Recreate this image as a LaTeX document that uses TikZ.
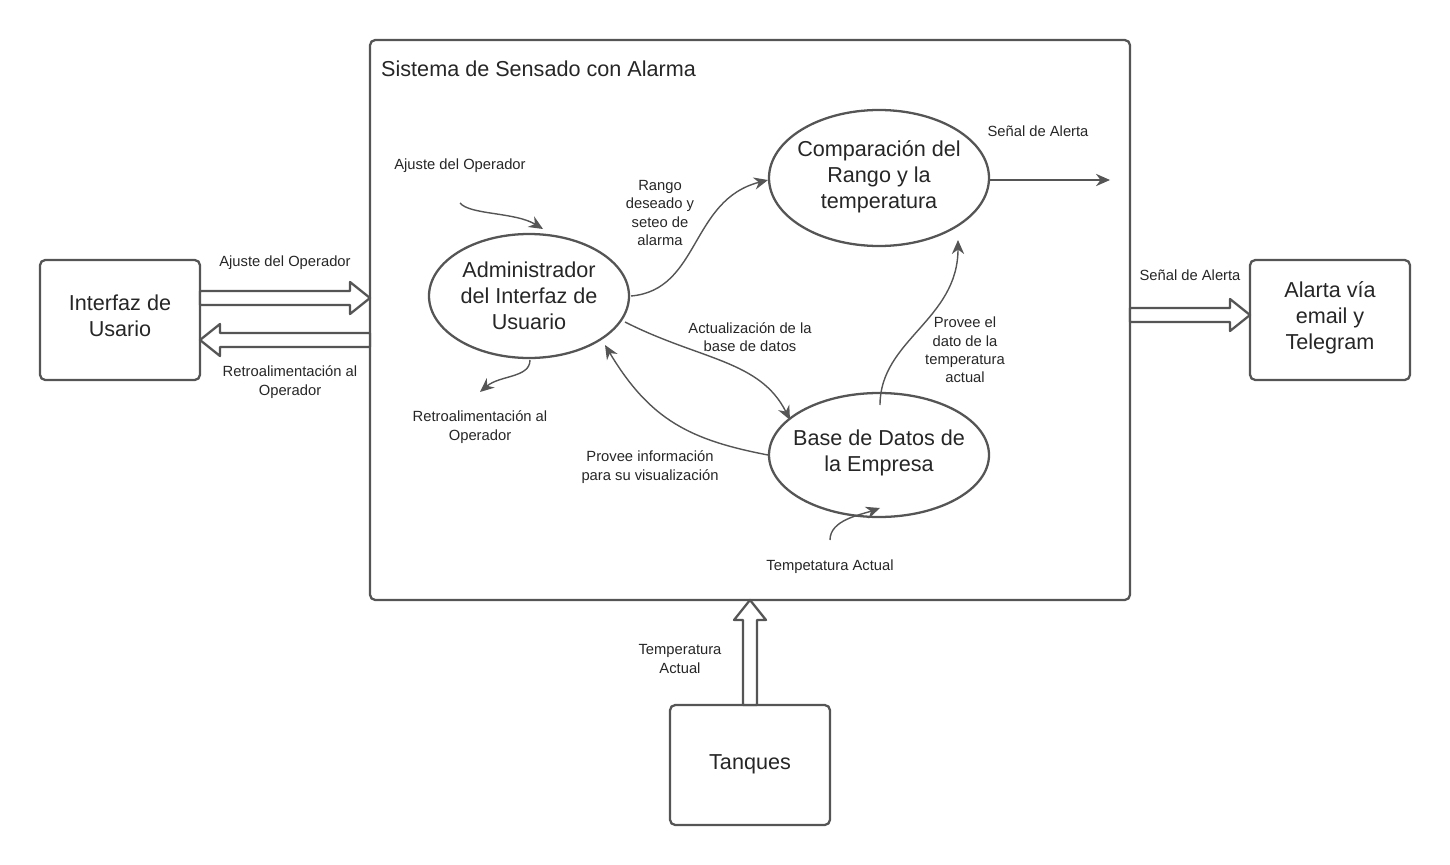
\documentclass[tikz,border=0pt]{standalone}
\usepackage{fontspec}
\setmainfont{Liberation Sans}
\usetikzlibrary{arrows.meta}
\definecolor{ln}{HTML}{555555}
\begin{document}
\begin{tikzpicture}[x=0.02cm,y=-0.02cm,
  box/.style={draw=ln,line width=1.3pt,rounded corners=3pt},
  ell/.style={draw=ln,line width=1.3pt},
  big/.style={font=\fontsize{12.3}{14.8}\selectfont,align=center,text=black!85},
  lab/.style={font=\fontsize{8.4}{10.5}\selectfont,align=center,text=black!85},
  con/.style={draw=ln,line width=0.8pt,-{Stealth[length=8pt,width=7pt]}},
  hol/.style={draw=ln,line width=1.3pt,fill=white,line join=round}]
\useasboundingbox (0,0) rectangle (1450,865);
\draw[box] (370,40) rectangle (1130,600);
\node[anchor=west,font=\fontsize{12.3}{14.8}\selectfont,text=black!85] (title) at (375,69) {Sistema de Sensado con Alarma};
\draw[box] (40,260) rectangle (200,380); \node[big] (ui) at (120,316) {Interfaz de\\Usario};
\draw[box] (1250,260) rectangle (1410,380); \node[big] (al) at (1330,318) {Alarta vía\\email y\\Telegram};
\draw[box] (670,705) rectangle (830,825); \node[big] (tq) at (750,764) {Tanques};
\draw[ell] (529,296) ellipse [x radius=100,y radius=62];
\node[big] (adm) at (529,296) {Administrador\\del Interfaz de\\Usuario};
\draw[ell] (879,178) ellipse [x radius=110,y radius=68];
\node[big] (cmp) at (879,177) {Comparación del\\Rango y la\\temperatura};
\draw[ell] (879,455) ellipse [x radius=110,y radius=62];
\node[big] (bd) at (879,453) {Base de Datos de\\la Empresa};
% hollow arrows
\draw[hol] (200,291)--(350,291)--(350,282)--(370,298)--(350,314)--(350,305)--(200,305)--cycle;
\draw[hol] (370,333)--(220,333)--(220,324)--(200,340)--(220,356)--(220,347)--(370,347)--cycle;
\draw[hol] (1130,308)--(1230,308)--(1230,299)--(1250,315)--(1230,331)--(1230,322)--(1130,322)--cycle;
\draw[hol] (743,705)--(743,620)--(734,620)--(750,600)--(766,620)--(757,620)--(757,705)--cycle;
% labels
\node[lab] (l1) at (285,263) {Ajuste del Operador};
\node[lab] (l2) at (290,382) {Retroalimentación al\\Operador};
\node[lab] (l3) at (1190,275) {Señal de Alerta};
\node[lab] (l4) at (680,659) {Temperatura\\Actual};
\node[lab] (l5) at (460,166) {Ajuste del Operador};
\node[lab] (l6) at (660,213) {Rango\\deseado y\\seteo de\\alarma};
\node[lab] (l7) at (1038,131) {Señal de Alerta};
\node[lab] (l8) at (750,337) {Actualización de la\\base de datos};
\node[lab] (l9) at (650,467) {Provee información\\para su visualización};
\node[lab] (l10) at (965,350) {Provee el\\dato de la\\temperatura\\actual};
\node[lab] (l11) at (480,427) {Retroalimentación al\\Operador};
\node[lab] (l12) at (830,567) {Tempetatura Actual};
% connectors
\coordinate (a1) at (460,203); \coordinate (a2) at (543,229);
\draw[con] (a1) .. controls (470,215) and (515,212) .. (a2);
\coordinate (b1) at (631,296); \coordinate (b2) at (768,180);
\draw[con] (b1) .. controls (700,290) and (690,200) .. (b2);
\coordinate (c1) at (990,180); \coordinate (c2) at (1110,180);
\draw[con] (c1) -- (c2);
\coordinate (d1) at (625,322); \coordinate (d2) at (790,420);
\draw[con] (d1) .. controls (700,360) and (760,360) .. (d2);
\coordinate (e1) at (768,455); \coordinate (e2) at (605,345);
\draw[con] (e1) .. controls (690,440) and (650,420) .. (e2);
\coordinate (f1) at (880,405); \coordinate (f2) at (958,240);
\draw[con] (f1) .. controls (880,340) and (958,320) .. (f2);
\coordinate (g1) at (530,360); \coordinate (g2) at (480,392);
\draw[con] (g1) .. controls (530,378) and (500,375) .. (g2);
\coordinate (h1) at (830,540); \coordinate (h2) at (880,508);
\draw[con] (h1) .. controls (830,520) and (860,515) .. (h2);
\end{tikzpicture}
\end{document}
